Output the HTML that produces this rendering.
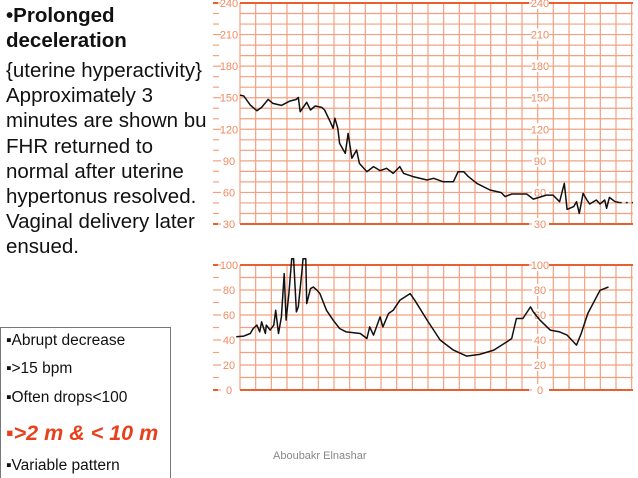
<!DOCTYPE html>
<html><head><meta charset="utf-8"><style>
body{margin:0;width:638px;height:478px;overflow:hidden;background:#fff;font-family:"Liberation Sans",sans-serif;position:relative}
.t{position:absolute;left:6px;top:3px;width:208px;overflow:hidden;white-space:nowrap;font-size:20.5px;line-height:25.2px;color:#111}
.box{position:absolute;left:0;top:327px;width:171px;height:151px;border:1px solid #777;border-bottom:none;box-sizing:border-box;font-size:15.5px;color:#111}
.box div{position:absolute;left:5px;white-space:nowrap}
</style></head><body>
<div class="t">
<div style="font-weight:bold;line-height:25px">•Prolonged<br>deceleration</div>
<div style="margin-top:5px">{uterine hyperactivity}<br>Approximately 3<br>minutes are shown bu<br>FHR returned to<br>normal after uterine<br>hypertonus resolved.<br>Vaginal delivery later<br>ensued.</div>
</div>
<div class="box">
<div style="top:4px">▪Abrupt decrease</div>
<div style="top:32px">▪&gt;15 bpm</div>
<div style="top:61px">▪Often drops&lt;100</div>
<div style="top:93px;color:#e8401c;font-weight:bold;font-style:italic;font-size:21.5px">▪&gt;2 m &amp; &lt; 10 m</div>
<div style="top:129px">▪Variable pattern</div>
</div>
<div style="position:absolute;left:273px;top:450px;font-size:11px;color:#888">Aboubakr Elnashar</div>
<svg id="c" width="638" height="478" style="position:absolute;left:0;top:0"></svg>
<script>
const fhrT=[0,0.04,0.11,0.18,0.23,0.30,0.35,0.44,0.53,0.60,0.62,0.64,0.71,0.75,0.80,0.87,0.90,0.96,0.99,1.01,1.04,1.06,1.12,1.15,1.19,1.24,1.27,1.35,1.42,1.49,1.56,1.63,1.70,1.74,1.84,1.99,2.06,2.16,2.27,2.32,2.38,2.43,2.52,2.66,2.78,2.82,2.89,3.05,3.12,3.26,3.33,3.40,3.45,3.48,3.55,3.58,3.61,3.65,3.69,3.72,3.79,3.83,3.88,3.90,3.93,3.99,4.04];
const fhrV=[152.5,151.6,143,137.7,140.8,148.4,144.6,142.7,146.8,148.4,150.3,136.7,145.6,138.3,142.1,140.8,138.3,127.2,120.9,130.4,120.9,106.6,97.1,116.1,92.4,100.3,87.6,79.7,84.5,80.7,82.9,78.1,84.5,78.1,75,71.8,73.4,70.2,70.2,79.7,79.7,75,68.6,62.3,59.8,56,58.5,58.5,53.7,57.5,57.5,51.2,68.6,43.9,46.5,51.2,40.1,59.1,52.8,49,52.8,49,52.8,44.9,55.3,51.2,50.3];
const uaT=[-0.04,0.04,0.11,0.14,0.18,0.21,0.23,0.27,0.28,0.32,0.36,0.38,0.41,0.44,0.47,0.49,0.52,0.55,0.57,0.60,0.62,0.66,0.67,0.70,0.71,0.75,0.78,0.82,0.85,0.92,0.99,1.06,1.13,1.28,1.35,1.38,1.42,1.49,1.52,1.58,1.63,1.70,1.81,1.86,1.99,2.13,2.27,2.41,2.55,2.70,2.84,2.89,2.94,3.01,3.09,3.12,3.19,3.30,3.40,3.48,3.53,3.58,3.63,3.70,3.83,3.92];
const uaV=[42.6,43.1,45.2,49.2,51.9,46.5,54.5,45.2,51.9,47.9,51.9,63.8,45.2,58.5,93.1,55.9,77.1,105,105,62.5,66.5,95.7,105,105,69.1,81.1,82.4,79.8,77.1,63.8,55.9,49.2,46.5,45.2,41.2,50.5,43.9,58.5,50.5,61.2,63.8,71.8,77.1,71.8,55.9,39.9,31.9,27.1,28.5,31.9,38.6,41.2,57.2,57.2,66.5,62.5,55.9,47.9,46.5,43.9,39.9,35.9,45.2,61.2,79.8,82.4];
const fhrTicks=[30,60,90,120,150,180,210,240];
const uaTicks=[0,20,40,60,80,100];
const NS="http://www.w3.org/2000/svg",svg=document.getElementById('c');
const X0=240,X1=633,PX=94;
const xs=t=>X0+t*PX;
const yF=v=>3+(240-v)*221/210;
const yU=v=>265+(100-v)*1.25;
function mk(tag,a,p){const e=document.createElementNS(NS,tag);for(const k in a)e.setAttribute(k,a[k]);(p||svg).appendChild(e);return e;}
const light="#f4a080",dark="#e8602f",lab="#f08a60";
function panel(y,lo,hi,step,ticks,name){
  const g=mk('g',{});
  
  
  for(let x=X0;x<=X1+0.5;x+=PX/6){const d=Math.abs((x-321)%PX)<1||Math.abs((x-321)%PX-PX)<1;
    mk('line',{x1:x,x2:x,y1:y(hi),y2:y(lo),stroke:d?dark:light,'stroke-width':d?2:1.2},g);}
  for(let v=lo;v<=hi;v+=step){const d=v==lo||v==hi;
    mk('line',{x1:X0,x2:X1,y1:y(v),y2:y(v),stroke:d?dark:light,'stroke-width':d?2:1.2},g);
    mk('line',{x1:213,x2:219,y1:y(v),y2:y(v),stroke:d?dark:light,'stroke-width':d?2:1.2},g);}
  ticks.forEach(v=>{[227,538].forEach(lx=>{
    mk('rect',{x:lx-9,y:y(v)-6,width:20,height:12,fill:'#fff'},g);
    mk('line',{x1:lx-9,x2:lx-6,y1:y(v),y2:y(v),stroke:light,'stroke-width':1.2},g);
    const t=mk('text',{x:lx+2,y:y(v)+4,'font-size':11,fill:lab,'text-anchor':'middle','font-family':'Liberation Sans'},g);
    t.textContent=v;
    
    });});
}
panel(yF,30,240,10,fhrTicks,'fhr');
panel(yU,0,100,10,uaTicks,'ua');
function line(T,V,y,name){let d='';T.forEach((t,i)=>{d+=(i?'L':'M')+xs(t).toFixed(1)+','+y(V[i]).toFixed(1);});
  const p=mk('path',{d,fill:'none',stroke:'#111','stroke-width':1.5,'stroke-linejoin':'round'});
  
  return p;}
line(fhrT,fhrV,yF,'fhr-trace');
line(uaT,uaV,yU,'ua-trace');
const last=fhrT[fhrT.length-1];
const dp=mk('line',{x1:xs(last),x2:X1,y1:yF(fhrV[fhrV.length-1]),y2:yF(fhrV[fhrV.length-1]),stroke:'#222','stroke-width':1.5,'stroke-dasharray':'2,4'});


</script>
</body></html>
